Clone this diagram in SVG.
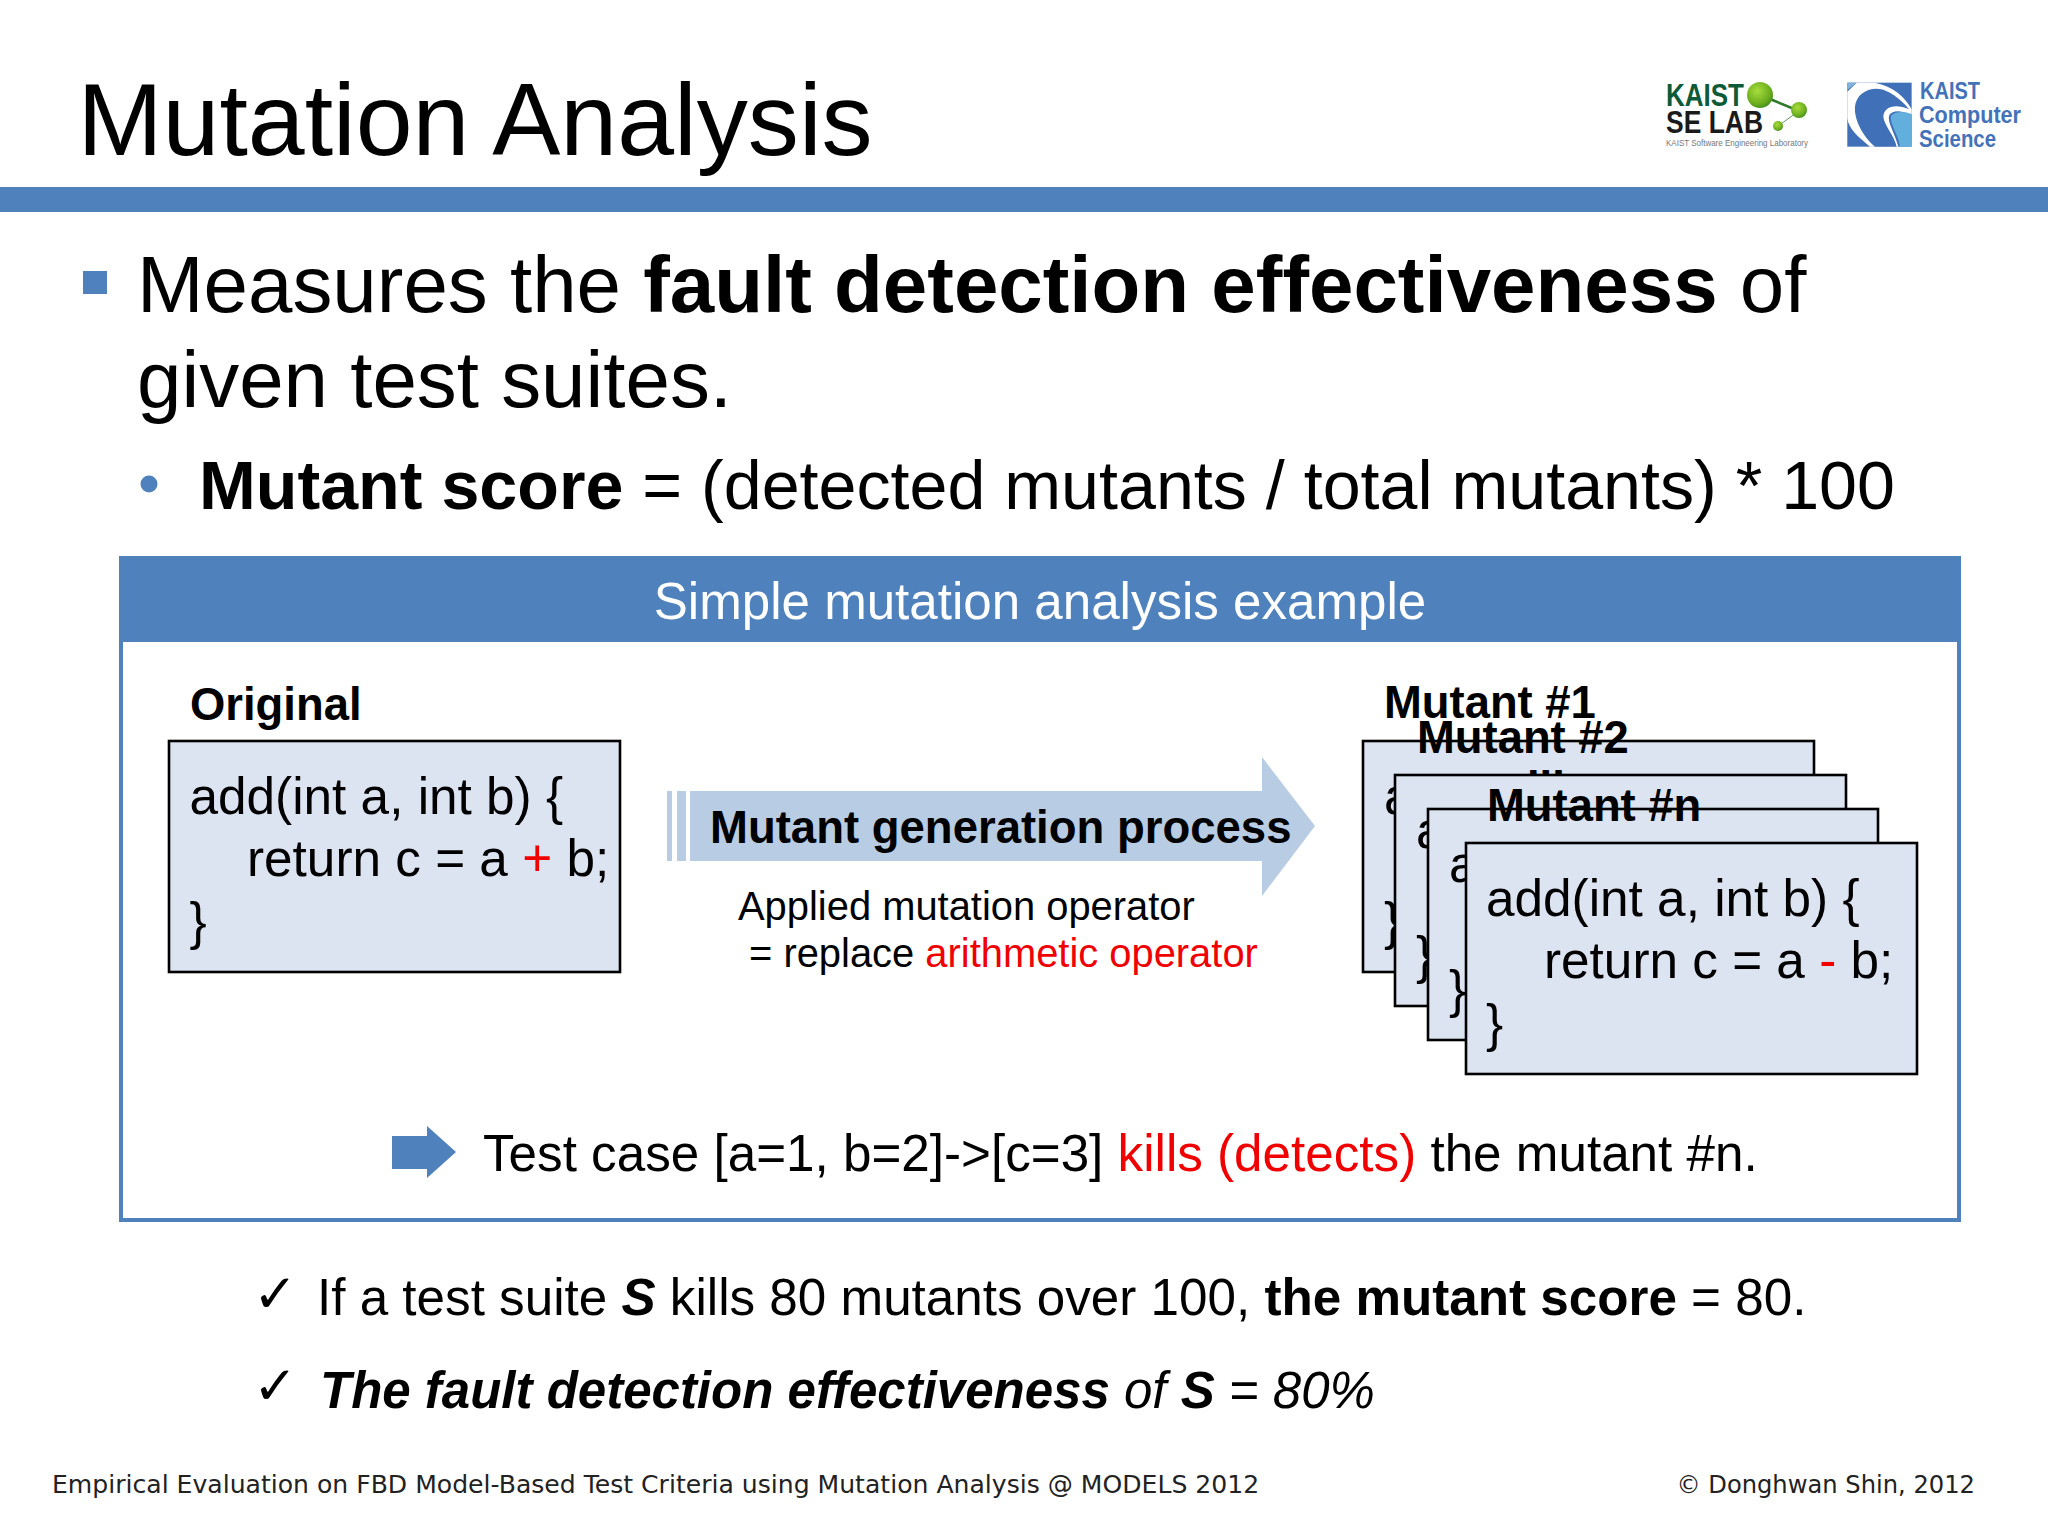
<svg xmlns="http://www.w3.org/2000/svg" width="2048" height="1536" viewBox="0 0 2048 1536">
<defs>
<radialGradient id="g1" cx="0.4" cy="0.35" r="0.7"><stop offset="0" stop-color="#a8dc3c"/><stop offset="0.7" stop-color="#6cae1e"/><stop offset="1" stop-color="#3f8a1a"/></radialGradient>
</defs>
<style>
text{font-family:"Liberation Sans",Arial,sans-serif;fill:#000}
.b{font-weight:bold}
.r{fill:#f00000}
.code{font-size:51.3px}
.lbl{font-size:45.4px;font-weight:bold}
.box{fill:#dce4f2;stroke:#000;stroke-width:2.6}
.foot{font-family:"DejaVu Sans",sans-serif;font-size:25.1px;fill:#222}
.cs{font-family:"Liberation Sans",sans-serif;font-weight:bold;font-size:24px;fill:#4472b8}
.chk{font-family:"DejaVu Sans",sans-serif;font-size:53px;font-weight:bold}
</style>
<rect width="2048" height="1536" fill="#fff"/>
<g id="title">
<text x="77.500" y="155" font-size="102.2">Mutation Analysis</text>
<rect x="0" y="187" width="2048" height="25" fill="#4f81bd"/>
</g>
<g id="logo-selab">
<text x="1666" y="106" font-size="32" class="b" style="fill:#0d5a38" textLength="78" lengthAdjust="spacingAndGlyphs">KAIST</text>
<text x="1666" y="133" font-size="32" class="b" style="fill:#1a1a1a" textLength="97" lengthAdjust="spacingAndGlyphs">SE LAB</text>
<text x="1666" y="146" font-size="9" style="fill:#777" textLength="142" lengthAdjust="spacingAndGlyphs">KAIST Software Engineering Laboratory</text>
<path d="M1770 99L1799 111" stroke="#2f7a2a" stroke-width="2.5" fill="none"/>
<path d="M1799 111L1778 126" stroke="#6a9a60" stroke-width="1" fill="none"/>
<circle cx="1760" cy="95" r="13" fill="url(#g1)"/>
<circle cx="1799" cy="110" r="8" fill="url(#g1)"/>
<circle cx="1778" cy="126" r="5" fill="url(#g1)"/>
</g>
<g id="logo-cs">
<g transform="translate(1600 50) scale(0.3333)">
<rect x="742" y="98" width="193" height="192" fill="#3f70b8"/>
<path d="M742 125L770 98L825 98C880 110 915 140 935 178L935 195C900 180 880 180 868 195C860 215 885 250 895 290L810 290C775 262 745 235 742 205Z" fill="#fff"/>
<path d="M742 98H770L742 120Z" fill="#7fb2dc"/>
<path d="M830 116C795 116 768 138 765 170C762 210 790 260 825 290L890 290C885 260 852 225 850 200C852 170 885 160 928 178C905 150 865 116 830 116Z" fill="#3f70b8"/>
<path d="M873 197C888 182 915 185 935 192L935 290L900 290C895 250 868 222 873 197Z" fill="#62aedc"/>
</g>
<text x="1920" y="99" class="cs" textLength="60" lengthAdjust="spacingAndGlyphs">KAIST</text>
<text x="1919" y="123" class="cs" textLength="102" lengthAdjust="spacingAndGlyphs">Computer</text>
<text x="1919" y="147" class="cs" textLength="77" lengthAdjust="spacingAndGlyphs">Science</text>
</g>
<g id="bullets">
<rect x="83" y="271" width="24" height="23" fill="#4f81bd"/>
<text x="137" y="312" font-size="79.9">Measures the <tspan class="b">fault detection effectiveness</tspan> of</text>
<text x="137" y="407" font-size="79.9">given test suites.</text>
<circle cx="149" cy="484" r="8.5" fill="#4f81bd"/>
<text x="199" y="509" font-size="68.2"><tspan class="b">Mutant score</tspan> = (detected mutants / total mutants) * 100</text>
</g>
<g id="panel">
<rect x="121" y="558" width="1838" height="662" fill="#fff" stroke="#4f81bd" stroke-width="4"/>
<rect x="119" y="557" width="1842" height="85" fill="#4f81bd"/>
<text x="1040" y="619" font-size="51.1" text-anchor="middle" style="fill:#fff">Simple mutation analysis example</text>
</g>
<g id="original">
<text x="190" y="720" class="lbl">Original</text>
<rect x="169" y="741" width="451" height="231" class="box"/>
<text x="189.500" y="814" class="code">add(int a, int b) {</text>
<text x="247" y="876" class="code">return c = a <tspan class="r">+</tspan> b;</text>
<text x="189.500" y="939" class="code">}</text>
</g>
<g id="mutant-1">
<text x="1384" y="718" class="lbl">Mutant #1</text>
<rect x="1363" y="741" width="451" height="231" class="box"/>
<text x="1384" y="814" class="code">a</text>
<text x="1384" y="939" class="code">}</text>
</g>
<g id="mutant-2">
<text x="1417" y="753" class="lbl">Mutant #2</text>
<text x="1527" y="777" class="lbl">...</text>
<rect x="1395" y="775" width="451" height="231" class="box"/>
<text x="1416" y="848" class="code">a</text>
<text x="1416" y="973" class="code">}</text>
</g>
<g id="mutant-n-back">
<rect x="1428" y="809" width="450" height="231" class="box"/>
<text x="1449" y="882" class="code">a</text>
<text x="1449" y="1007" class="code">}</text>
<text x="1487" y="821" class="lbl">Mutant #n</text>
</g>
<g id="mutant-n">
<rect x="1466" y="843" width="451" height="231" class="box"/>
<text x="1486" y="916" class="code">add(int a, int b) {</text>
<text x="1544" y="978" class="code">return c = a <tspan class="r">-</tspan> b;</text>
<text x="1486" y="1041" class="code">}</text>
</g>
<g id="connectors">
<path d="M690 791H1262V757L1315 826L1262 896V861H690Z" fill="#b8cce4"/>
<rect x="667" y="791" width="5" height="70" fill="#b8cce4"/>
<rect x="677" y="791" width="9" height="70" fill="#b8cce4"/>
<path d="M392 1136H427V1126L456 1152L427 1178V1169H392Z" fill="#4f81bd"/>
</g>
<g id="process">
<text x="710" y="843" font-size="45.5" class="b">Mutant generation process</text>
<text x="738" y="920" font-size="39.9">Applied mutation operator</text>
<text x="749" y="967" font-size="39.9">= replace <tspan class="r">arithmetic operator</tspan></text>
</g>
<g id="result">
<text x="483" y="1171" font-size="51.2">Test case [a=1, b=2]-&gt;[c=3] <tspan class="r">kills (detects)</tspan> the mutant #n.</text>
</g>
<g id="notes">
<text x="253" y="1312" class="chk">✓</text>
<text x="317" y="1315" font-size="51.2">If a test suite <tspan class="b" font-style="italic">S</tspan> kills 80 mutants over 100, <tspan class="b">the mutant score</tspan> = 80.</text>
<text x="253" y="1404" class="chk">✓</text>
<text x="320" y="1408" font-size="51" font-style="italic"><tspan class="b">The fault detection effectiveness</tspan> of <tspan class="b">S</tspan> = 80%</text>
</g>
<g id="footer">
<text x="52" y="1493" class="foot">Empirical Evaluation on FBD Model-Based Test Criteria using Mutation Analysis @ MODELS 2012</text>
<text x="1975" y="1493" class="foot" text-anchor="end" style="font-size:24.200px">© Donghwan Shin, 2012</text>
</g>
</svg>
